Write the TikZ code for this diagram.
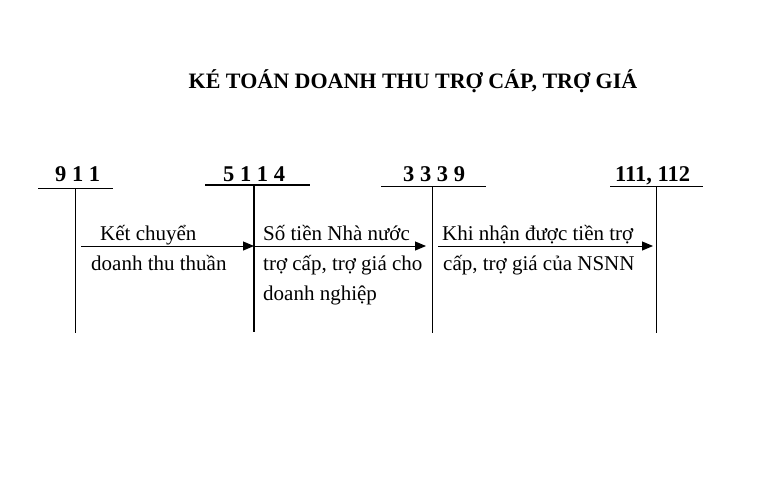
\documentclass[tikz,border=0pt]{standalone}
\usepackage{fontspec}
\setmainfont{Liberation Serif}
\usetikzlibrary{arrows.meta}
\begin{document}
\begin{tikzpicture}[x=1pt,y=-1pt,
  body/.style={font=\fontsize{21}{24}\selectfont, inner sep=0pt, anchor=base west},
  acct/.style={font=\bfseries\fontsize{22.5}{24}\selectfont, inner sep=0pt, anchor=base west},
  ttl/.style={font=\bfseries\fontsize{22}{24}\selectfont, inner sep=0pt, anchor=base},
  tline/.style={line width=1pt},
  thick line/.style={line width=2.6pt},
  flow/.style={line width=1pt, -{Triangle[length=11pt,width=9pt]}}]
\useasboundingbox (0,0) rectangle (768,480);
\fill[white] (0,0) rectangle (768,480);
% title
\node[ttl] (title) at (413,88) {KÉ TOÁN DOANH THU TRỢ CÁP, TRỢ GIÁ};
% account labels
\node[acct] (l911) at (55,181) {9 1 1};
\node[acct] (l5114) at (223,181) {5 1 1 4};
\node[acct] (l3339) at (403,181) {3 3 3 9};
\node[acct] (l111) at (615,181) {111, 112};
% T-account coordinates
\coordinate (a1L) at (38,188);  \coordinate (a1R) at (113,188);
\coordinate (a1T) at (75,188);  \coordinate (a1B) at (75,333);
\coordinate (a2L) at (205,185); \coordinate (a2R) at (310,185);
\coordinate (a2T) at (254,185); \coordinate (a2B) at (254,332);
\coordinate (a3L) at (381,186); \coordinate (a3R) at (486,186);
\coordinate (a3T) at (432,186); \coordinate (a3B) at (432,333);
\coordinate (a4L) at (610,186); \coordinate (a4R) at (703,186);
\coordinate (a4T) at (656,186); \coordinate (a4B) at (656,333);
\draw[tline] (a1L) -- (a1R); \draw[tline] (a1T) -- (a1B);
\draw[thick line] (a2L) -- (a2R); \draw[thick line] (a2T) -- (a2B);
\draw[tline] (a3L) -- (a3R); \draw[tline] (a3T) -- (a3B);
\draw[tline] (a4L) -- (a4R); \draw[tline] (a4T) -- (a4B);
% arrows
\coordinate (f1s) at (81,246);  \coordinate (f1e) at (254,246);
\coordinate (f2s) at (254,246); \coordinate (f2e) at (426,246);
\coordinate (f3s) at (438,246); \coordinate (f3e) at (653,246);
\draw[flow] (f1s) -- (f1e);
\draw[flow] (f2s) -- (f2e);
\draw[flow] (f3s) -- (f3e);
% texts
\node[body] (t1a) at (100,240) {Kết chuyển};
\node[body] (t1b) at (91,270) {doanh thu thuần};
\node[body] (t2a) at (263,240) {Số tiền Nhà nước};
\node[body] (t2b) at (263,270) {trợ cấp, trợ giá cho};
\node[body] (t2c) at (263,300) {doanh nghiệp};
\node[body] (t3a) at (442,240) {Khi nhận được tiền trợ};
\node[body] (t3b) at (443,270) {cấp, trợ giá của NSNN};
\end{tikzpicture}
\end{document}
